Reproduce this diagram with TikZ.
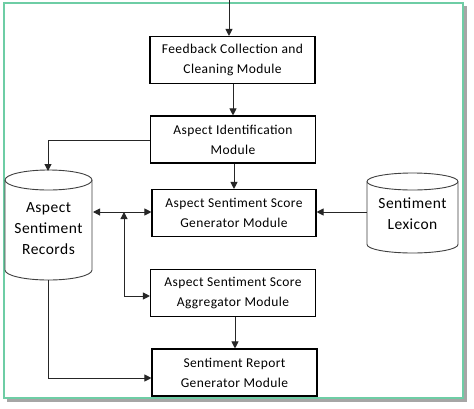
\documentclass[tikz,border=0pt]{standalone}
\usepackage{fontspec}
\setmainfont{Carlito}[LetterSpace=3]
\usetikzlibrary{arrows.meta}
\definecolor{framegreen}{RGB}{110,205,165}
\begin{document}
\begin{tikzpicture}[x=1pt,y=-1pt,
  module/.style={draw=black,line width=1.1pt,fill=white,minimum width=165pt,minimum height=47pt,align=center,font=\fontsize{13.5}{20}\selectfont,inner sep=0pt},
  dbtext/.style={align=center,font=\fontsize{15.5}{21}\selectfont,inner sep=0pt},
  dbline/.style={draw=black!75,line width=0.9pt,fill=white},
  conn/.style={draw=black!85,line width=1pt,-{Triangle[length=7pt,width=7pt]}},
]
\useasboundingbox (0,0) rectangle (474,408);
% frame with shadow
\fill[black!35] (7,6) rectangle (467,402);
\draw[framegreen,line width=1.3pt,fill=white] (4,3) rectangle (463,398);

\node[module] (fb) at (232.5,60) {Feedback Collection and\\Cleaning Module};
\node[module] (ai) at (233,139.5) {Aspect Identification\\Module};
\node[module,minimum width=164pt] (gen) at (234,213) {Aspect Sentiment Score\\Generator Module};
\node[module] (agg) at (233,293) {Aspect Sentiment Score\\Aggregator Module};
\node[module] (rep) at (234.5,372.5) {Sentiment Report\\Generator Module};

% cylinder: Aspect Sentiment Records
\path[dbline] (5,180) -- (5,270) arc[start angle=180,end angle=0,x radius=43.5,y radius=10] -- (92,180) arc[start angle=0,end angle=-180,x radius=43.5,y radius=10] -- cycle;
\draw[draw=black!75,line width=0.9pt] (5,180) arc[start angle=180,end angle=0,x radius=43.5,y radius=10];
\node[dbtext,minimum width=87pt,minimum height=110pt] (asr) at (48.5,229) {Aspect\\Sentiment\\Records};
% cylinder: Sentiment Lexicon
\path[dbline] (367,181.5) -- (367,244.5) arc[start angle=180,end angle=0,x radius=45.5,y radius=8.5] -- (458,181.5) arc[start angle=0,end angle=-180,x radius=45.5,y radius=8.5] -- cycle;
\draw[draw=black!75,line width=0.9pt] (367,181.5) arc[start angle=180,end angle=0,x radius=45.5,y radius=8.5];
\node[dbtext,minimum width=91pt,minimum height=80pt] (lex) at (412.5,214) {Sentiment\\Lexicon};

\coordinate (in) at (229,0);
\coordinate (c1) at (48,140);
\coordinate (j) at (124,212);
\coordinate (j2) at (124,296);
\coordinate (c3) at (48,378);

\draw[conn] (in) -- (in |- fb.north);
\draw[conn] (fb.south -| 233,0) -- (ai.north -| 233,0);
\draw[conn] (ai.south -| 234,0) -- (gen.north -| 234,0);
\draw[conn] (agg.south -| 235,0) -- (rep.north -| 235,0);
\draw[conn] (ai.west |- c1) -- (c1) -- (48,171);
\draw[conn,{Triangle[length=7pt,width=7pt]}-{Triangle[length=7pt,width=7pt]}] (93,212) -- (gen.west |- j);
\draw[conn] (j2) -- (j);
\draw[conn] (j2) -- (agg.west |- j2);
\draw[conn] (lex.west |- j) -- (gen.east |- j);
\draw[conn] (48,280) -- (c3) -- (rep.west |- c3);
\end{tikzpicture}
\end{document}
